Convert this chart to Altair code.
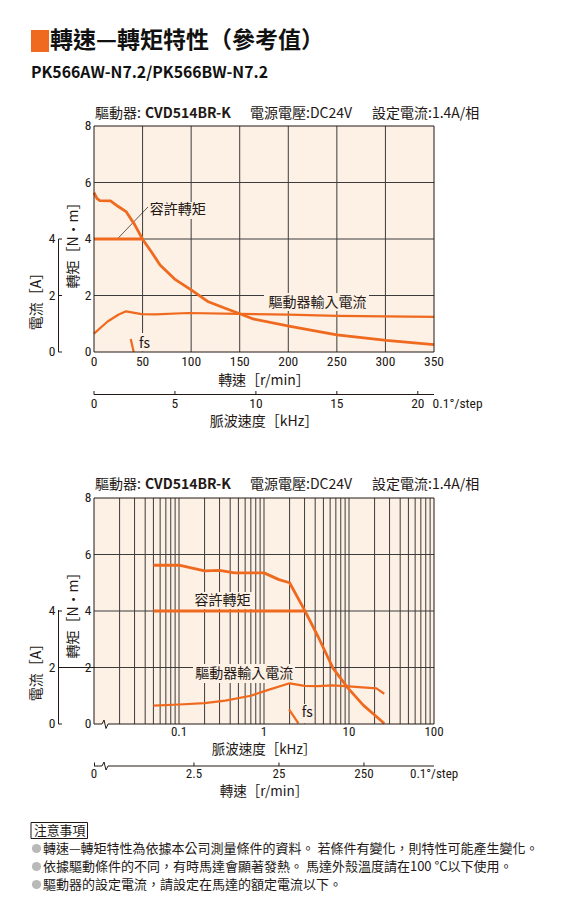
import altair as alt
import pandas as pd

CJK = "Noto Sans CJK TC"
NUM = "Liberation Sans Narrow, Roboto Condensed, Noto Sans CJK TC"
INK = "#231815"
ORANGE = "#ef6a1f"
PLOT_BG = "#fdf0e4"
GRID = "#3c3c3c"

# ---------------- text ----------------
title_text = "轉速—轉矩特性（參考值）"
model_text = "PK566AW-N7.2/PK566BW-N7.2"
cond_driver_label = "驅動器:"
cond_driver = "CVD514BR-K"
cond_voltage = "電源電壓:DC24V"
cond_current = "設定電流:1.4A/相"
notes_head = "注意事項"
notes = [
    "轉速—轉矩特性為依據本公司測量條件的資料。 若條件有變化，則特性可能產生變化。",
    "依據驅動條件的不同，有時馬達會顯著發熱。 馬達外殼溫度請在100 °C以下使用。",
    "驅動器的設定電流，請設定在馬達的額定電流以下。",
]

# ---------------- ticks ----------------
torque_ticks = [0, 2, 4, 6, 8]
current_ticks = [0, 2, 4]
top_speed_ticks = [0, 50, 100, 150, 200, 250, 300, 350]
top_speed_grid = [50, 100, 150, 200, 250, 300]
top_pulse_ticks = [0, 5, 10, 15, 20]
h_grid = [2, 4, 6]
bot_pulse_ticks = [0.1, 1, 10, 100]
bot_pulse_labels = ["0.1", "1", "10", "100"]
bot_pulse_grid = [0.02, 0.03, 0.04, 0.05, 0.06, 0.07, 0.08, 0.09,
                  0.1, 0.2, 0.3, 0.4, 0.5, 0.6, 0.7, 0.8, 0.9,
                  1, 2, 3, 4, 5, 6, 7, 8, 9,
                  10, 20, 30, 40, 50, 60, 70, 80, 90]
bot_speed_ticks = [2.5, 25, 250]
bot_speed_labels = ["2.5", "25", "250"]

# ---------------- top chart data (r/min) ----------------
top_torque_speed = [0, 3, 6, 17, 25, 33, 42, 50, 59, 68, 83, 100, 117, 135, 148, 164, 202, 250, 301, 350]
top_torque_val = [5.64, 5.44, 5.36, 5.35, 5.15, 4.97, 4.5, 3.99, 3.55, 3.08, 2.58, 2.2, 1.79, 1.55, 1.38, 1.17, 0.91, 0.61, 0.41, 0.26]
top_allow_speed = [0, 50]
top_allow_val = [4, 4]
top_current_speed = [0, 14, 25, 33, 49, 63, 97, 148, 200, 250, 350]
top_current_val = [0.65, 1.08, 1.32, 1.44, 1.34, 1.33, 1.38, 1.35, 1.32, 1.28, 1.24]
top_fs_speed = [37.8, 40.9]
top_fs_val = [0.46, 0.0]

# ---------------- bottom chart data (kHz) ----------------
bot_torque_khz = [0.05, 0.1, 0.2, 0.3, 0.45, 1.0, 1.5, 2.0, 3.0, 4.35, 6.5, 9.8, 14.7, 20, 26]
bot_torque_val = [5.62, 5.62, 5.42, 5.44, 5.35, 5.35, 5.11, 5.0, 4.03, 3.08, 1.97, 1.26, 0.67, 0.32, 0.02]
bot_allow_khz = [0.05, 3.0]
bot_allow_val = [4, 4]
bot_current_khz = [0.05, 0.1, 0.2, 0.35, 0.7, 1.1, 2.0, 3.0, 4.35, 6.3, 9, 21, 26]
bot_current_val = [0.65, 0.69, 0.74, 0.83, 1.0, 1.2, 1.44, 1.35, 1.34, 1.37, 1.34, 1.26, 1.07]
bot_fs_khz = [1.97, 2.54]
bot_fs_val = [0.52, 0.02]

# ---------------- scales ----------------
top_x = alt.Scale(domain=[0, 350], range=[94, 434], zero=False, nice=False)
top_y = alt.Scale(domain=[0, 8], range=[352, 126], zero=False, nice=False)
top_k = alt.Scale(domain=[0, 21], range=[94, 434], zero=False, nice=False)
bot_x = alt.Scale(type="log", domain=[0.01, 100], range=[94, 434], nice=False)
bot_y = alt.Scale(domain=[0, 8], range=[724, 498], zero=False, nice=False)
bot_r = alt.Scale(type="log", domain=[1 / 6, 5000 / 3], range=[94, 434], nice=False)

TICK_SIZE = 13.5


# ---------------- helpers ----------------
def ptext(text, x, y, size=14, weight="normal", align="left", angle=0, font=CJK, color=INK):
    return alt.Chart(pd.DataFrame({"t": [text]})).mark_text(
        font=font, fontSize=size, fontWeight=weight, align=align, baseline="middle",
        angle=angle, color=color).encode(x=alt.value(x), y=alt.value(y), text="t:N")


def prect(x0, x1, y0, y1, fill, stroke=None):
    kw = dict(color=fill)
    if stroke:
        kw = dict(fillOpacity=0, stroke=stroke, strokeWidth=1)
    return alt.Chart(pd.DataFrame({"a": [0]})).mark_rect(**kw).encode(
        x=alt.value(x0), x2=alt.value(x1), y=alt.value(y0), y2=alt.value(y1))


def prule(x0, x1, y0, y1, color=INK, width=1):
    return alt.Chart(pd.DataFrame({"a": [0]})).mark_rule(color=color, strokeWidth=width).encode(
        x=alt.value(x0), x2=alt.value(x1), y=alt.value(y0), y2=alt.value(y1))


def pline(xs, ys, color=INK, width=1):
    df = pd.DataFrame({"x": xs, "y": ys, "i": list(range(len(xs)))})
    return alt.Chart(df).mark_line(color=color, strokeWidth=width).encode(
        x=alt.X("x:Q", scale=None), y=alt.Y("y:Q", scale=None), order="i:Q")


def curve(xs, ys, xsc, ysc, width, color=ORANGE):
    df = pd.DataFrame({"x": xs, "y": ys, "i": list(range(len(xs)))})
    return alt.Chart(df).mark_line(color=color, strokeWidth=width, strokeJoin="round").encode(
        x=alt.X("x:Q", scale=xsc, axis=None), y=alt.Y("y:Q", scale=ysc, axis=None), order="i:Q")


def vrules(vals, xsc, ysc, y0, y1, color=GRID, width=1):
    df = pd.DataFrame({"x": vals, "y0": [y0] * len(vals), "y1": [y1] * len(vals)})
    return alt.Chart(df).mark_rule(color=color, strokeWidth=width).encode(
        x=alt.X("x:Q", scale=xsc, axis=None), y=alt.Y("y0:Q", scale=ysc, axis=None), y2="y1:Q")


def hrules(vals, xsc, ysc, x0, x1, color=GRID, width=1):
    df = pd.DataFrame({"y": vals, "x0": [x0] * len(vals), "x1": [x1] * len(vals)})
    return alt.Chart(df).mark_rule(color=color, strokeWidth=width).encode(
        y=alt.Y("y:Q", scale=ysc, axis=None), x=alt.X("x0:Q", scale=xsc, axis=None), x2="x1:Q")


def plot_rect(xsc, ysc, x0, x1, y0, y1):
    df = pd.DataFrame({"x0": [x0], "x1": [x1], "y0": [y0], "y1": [y1]})
    return alt.Chart(df).mark_rect(color=PLOT_BG).encode(
        x=alt.X("x0:Q", scale=xsc, axis=None), x2="x1:Q",
        y=alt.Y("y0:Q", scale=ysc, axis=None), y2="y1:Q")


def dtext(text, x, y, xsc, ysc, align="center", size=14):
    df = pd.DataFrame({"x": [x], "y": [y], "t": [text]})
    return alt.Chart(df).mark_text(font=CJK, fontSize=size, align=align, baseline="middle", color=INK).encode(
        x=alt.X("x:Q", scale=xsc, axis=None), y=alt.Y("y:Q", scale=ysc, axis=None), text="t:N")


def xlabels(vals, labels, xsc, ypx, size=TICK_SIZE, font=NUM):
    df = pd.DataFrame({"v": vals, "t": labels})
    return alt.Chart(df).mark_text(font=font, fontSize=size, baseline="middle", color=INK).encode(
        x=alt.X("v:Q", scale=xsc, axis=None), y=alt.value(ypx), text="t:N")


def ylabels(vals, ysc, xpx, size=TICK_SIZE):
    df = pd.DataFrame({"v": vals, "t": [str(v) for v in vals]})
    return alt.Chart(df).mark_text(font=NUM, fontSize=size, align="right", baseline="middle", color=INK).encode(
        y=alt.Y("v:Q", scale=ysc, axis=None), x=alt.value(xpx), text="t:N")


def yticks(vals, ysc, x0, x1):
    df = pd.DataFrame({"v": vals})
    return alt.Chart(df).mark_rule(color=INK, strokeWidth=1).encode(
        y=alt.Y("v:Q", scale=ysc, axis=None), x=alt.value(x0), x2=alt.value(x1))


def xticks(vals, xsc, y0, y1):
    df = pd.DataFrame({"v": vals})
    return alt.Chart(df).mark_rule(color=INK, strokeWidth=1).encode(
        x=alt.X("v:Q", scale=xsc, axis=None), y=alt.value(y0), y2=alt.value(y1))


def seg(x0, x1, y0, y1, xsc, ysc, color=INK, width=1):
    df = pd.DataFrame({"x0": [x0], "x1": [x1], "y0": [y0], "y1": [y1]})
    return alt.Chart(df).mark_rule(color=color, strokeWidth=width).encode(
        x=alt.X("x0:Q", scale=xsc, axis=None), x2="x1:Q",
        y=alt.Y("y0:Q", scale=ysc, axis=None), y2="y1:Q")


# ---------------- header ----------------
header = [
    prect(31, 49, 30, 52, ORANGE),
    ptext(title_text, 50, 41, size=23, weight="bold", color="#111111"),
    ptext(model_text, 31, 73, size=15.8, weight="bold", color="#111111"),
]

# ---------------- top chart ----------------
top_group = alt.layer(
    plot_rect(top_x, top_y, 0, 350, 0, 8),
    vrules(top_speed_grid, top_x, top_y, 0, 8),
    hrules(h_grid, top_x, top_y, 0, 350),
    yticks(current_ticks, top_y, 58.5, 62),
    ylabels(current_ticks, top_y, 55.5),
    ylabels(torque_ticks, top_y, 91.5),
    xlabels(top_speed_ticks, [str(v) for v in top_speed_ticks], top_x, 362),
    seg(24, 57.4, 4.0, 5.2, top_x, top_y, width=0.7),
    curve(top_current_speed, top_current_val, top_x, top_y, 2.2),
    curve(top_allow_speed, top_allow_val, top_x, top_y, 2.8),
    curve(top_torque_speed, top_torque_val, top_x, top_y, 2.8),
    curve(top_fs_speed, top_fs_val, top_x, top_y, 2.2),
)
top_deco = [
    prule(58.5, 58.5, 239, 352),
    prect(148, 207, 202, 219, PLOT_BG),
    prect(264, 369, 293, 311, PLOT_BG),
    prect(137, 152, 333, 351.5, PLOT_BG),
]
top_labels = alt.layer(
    dtext("容許轉矩", 57.5, 5.03, top_x, top_y, align="left"),
    dtext("驅動器輸入電流", 230, 1.73, top_x, top_y),
    dtext("fs", 46.4, 0.3, top_x, top_y, align="left"),
    seg(0, 350, 0, 0, top_x, top_y),
    seg(0, 350, 8, 8, top_x, top_y),
    seg(0, 0, 0, 8, top_x, top_y),
    seg(350, 350, 0, 8, top_x, top_y),
)
top_khz = alt.layer(
    alt.Chart(pd.DataFrame({"a": [0], "b": [21]})).mark_rule(color=INK, strokeWidth=1).encode(
        x=alt.X("a:Q", scale=top_k, axis=None), x2="b:Q", y=alt.value(394.5)),
    xticks(top_pulse_ticks, top_k, 391, 394.5),
    xlabels(top_pulse_ticks, [str(v) for v in top_pulse_ticks], top_k, 403.5),
)
top_text = [
    ptext(cond_driver_label, 95, 114),
    ptext(cond_driver, 145, 114, weight="bold"),
    ptext(cond_voltage, 250, 114),
    ptext(cond_current, 372, 114),
    ptext("轉矩［N·m］", 73.5, 242, angle=270, align="center"),
    ptext("電流［A］", 37, 298, angle=270, align="center"),
    ptext("轉速［r/min］", 264, 380.5, align="center"),
    ptext("0.1°/step", 432.5, 403.5, font=NUM, size=TICK_SIZE),
    ptext("脈波速度［kHz］", 264, 421.5, align="center"),
]

# ---------------- bottom chart ----------------
bot_group = alt.layer(
    plot_rect(bot_x, bot_y, 0.01, 100, 0, 8),
    vrules(bot_pulse_grid, bot_x, bot_y, 0, 8),
    hrules(h_grid, bot_x, bot_y, 0.01, 100),
    yticks(current_ticks, bot_y, 58.5, 62),
    yticks([2], bot_y, 58.5, 94),
    ylabels(current_ticks, bot_y, 55.5),
    ylabels(torque_ticks, bot_y, 91.5),
    xlabels(bot_pulse_ticks, bot_pulse_labels, bot_x, 731.5, size=13),
)
bot_deco = [
    prule(58.5, 58.5, 610, 724),
    prect(193, 252, 592, 609, PLOT_BG),
    prect(193, 295, 664, 683, PLOT_BG),
    prect(300, 313, 704, 723.5, PLOT_BG),
]
bot_curves = alt.layer(
    curve(bot_current_khz, bot_current_val, bot_x, bot_y, 2.2),
    curve(bot_allow_khz, bot_allow_val, bot_x, bot_y, 2.8),
    curve(bot_torque_khz, bot_torque_val, bot_x, bot_y, 2.8),
    curve(bot_fs_khz, bot_fs_val, bot_x, bot_y, 2.2),
    dtext("容許轉矩", 0.325, 4.36, bot_x, bot_y),
    dtext("驅動器輸入電流", 0.585, 1.77, bot_x, bot_y),
    dtext("fs", 2.78, 0.39, bot_x, bot_y, align="left"),
    seg(0.01, 100, 8, 8, bot_x, bot_y),
    seg(0.01, 0.01, 0, 8, bot_x, bot_y),
    seg(100, 100, 0, 8, bot_x, bot_y),
)
bot_rpm = alt.layer(
    xticks(bot_speed_ticks, bot_r, 762.5, 766),
    xlabels(bot_speed_ticks, bot_speed_labels, bot_r, 774, size=13),
)
bot_text = [
    pline([94, 102, 104, 106, 108, 434], [724, 724, 720, 728.5, 724, 724]),
    pline([94, 102, 104, 106, 108, 434], [766, 766, 762, 770, 766, 766]),
    prule(94.5, 94.5, 762.5, 766),
    ptext("0", 94, 774, align="center", font=NUM, size=13),
    ptext(cond_driver_label, 95, 485),
    ptext(cond_driver, 145, 485, weight="bold"),
    ptext(cond_voltage, 250, 485),
    ptext(cond_current, 372, 485),
    ptext("轉矩［N·m］", 73.5, 612, angle=270, align="center"),
    ptext("電流［A］", 37, 669, angle=270, align="center"),
    ptext("脈波速度［kHz］", 264, 749.5, align="center", size=13.5),
    ptext("0.1°/step", 410, 774, font=NUM, size=13),
    ptext("轉速［r/min］", 264, 792, align="center", size=13.5),
]

# ---------------- notes ----------------
notes_layers = [
    prect(31, 87.5, 822.5, 838.5, None, stroke=INK),
    ptext(notes_head, 34, 830.5, size=12.8),
]
for line, yy in zip(notes, [848.5, 866.5, 884.5]):
    notes_layers.append(
        alt.Chart(pd.DataFrame({"a": [0]})).mark_circle(size=85, color="#b9b9b9", opacity=1).encode(
            x=alt.value(36.5), y=alt.value(yy)))
    notes_layers.append(ptext(line, 43, yy, size=13))

layers = (header + [top_group] + top_deco + [top_labels, top_khz] + top_text
          + [bot_group] + bot_deco + [bot_curves, bot_rpm] + bot_text + notes_layers)

chart = alt.layer(*layers).resolve_scale(x="independent", y="independent").properties(
    width=564, height=920, padding=0, background="white",
    autosize=alt.AutoSizeParams(type="none"),
).configure_view(stroke=None)

chart.save("out.html", embed_options={"renderer": "svg", "actions": False})
